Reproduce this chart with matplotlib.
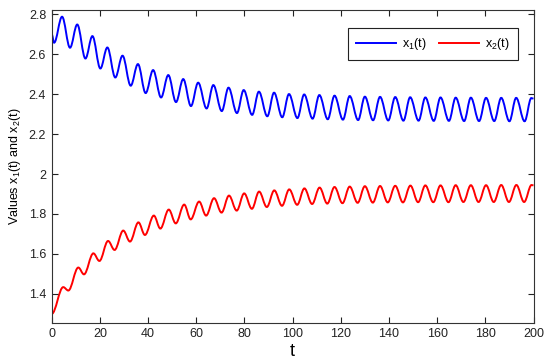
import matplotlib
matplotlib.use("Agg")
import matplotlib.pyplot as plt
from matplotlib.path import Path
from matplotlib.patches import PathPatch
from matplotlib.lines import Line2D

plt.rcParams['font.family'] = ['Liberation Sans', 'DejaVu Sans']
plt.rcParams['mathtext.fontset'] = 'custom'
plt.rcParams['mathtext.rm'] = 'Liberation Sans'
plt.rcParams['mathtext.default'] = 'regular'

# extrema of x1(t): (t, value), in order
x1_t = [0.0, 1.0, 4.3, 7.6, 10.6, 14.0, 16.9, 20.2, 23.1, 26.4, 29.4, 32.8, 35.8,
        39.0, 42.1, 45.4, 48.4, 51.6, 54.6, 57.8, 60.8, 64.3, 67.1, 70.6, 73.4,
        76.9, 79.7, 83.2, 86.0, 89.5, 92.3, 95.7, 98.5, 102.0, 104.8, 108.3, 111.1,
        114.6, 117.4, 120.9, 123.7, 127.2, 130.0, 133.4, 136.3, 139.7, 142.6, 146.0,
        148.8, 152.3, 155.1, 158.6, 161.4, 164.9, 167.7, 171.2, 174.0, 177.4, 180.3,
        183.7, 186.6, 190.0, 192.8, 196.3, 199.1, 200.0]
x1_v = [2.700, 2.657, 2.787, 2.632, 2.748, 2.578, 2.690, 2.528, 2.633, 2.483, 2.592,
        2.442, 2.550, 2.405, 2.520, 2.383, 2.495, 2.360, 2.475, 2.340, 2.457, 2.328,
        2.445, 2.315, 2.432, 2.305, 2.420, 2.296, 2.412, 2.289, 2.407, 2.284, 2.400,
        2.280, 2.398, 2.277, 2.395, 2.274, 2.392, 2.272, 2.390, 2.270, 2.387, 2.269,
        2.386, 2.268, 2.385, 2.267, 2.384, 2.267, 2.383, 2.266, 2.383, 2.266, 2.382,
        2.265, 2.382, 2.265, 2.381, 2.265, 2.381, 2.264, 2.381, 2.264, 2.380, 2.377]

# extrema of x2(t)
x2_t = [0.0, 4.8, 6.9, 11.05, 13.4, 17.3, 19.8, 23.4, 26.1, 29.7, 32.5, 36.0, 38.7,
        42.4, 45.1, 48.6, 51.5, 55.0, 57.7, 61.2, 64.1, 67.4, 70.5, 73.6, 76.8,
        79.9, 83.1, 86.1, 89.3, 92.4, 95.6, 98.6, 101.9, 104.9, 108.1, 111.2, 114.4,
        117.4, 120.7, 123.7, 127.0, 130.0, 133.3, 136.3, 139.5, 142.6, 145.8, 148.9,
        152.1, 155.1, 158.4, 161.4, 164.7, 167.7, 170.9, 174.0, 177.2, 180.3, 183.5,
        186.6, 189.8, 192.9, 196.1, 199.2, 200.0]
x2_v = [1.300, 1.434, 1.417, 1.532, 1.498, 1.603, 1.565, 1.665, 1.620, 1.717, 1.662,
        1.758, 1.695, 1.792, 1.727, 1.822, 1.753, 1.847, 1.773, 1.862, 1.792, 1.879,
        1.807, 1.892, 1.817, 1.903, 1.826, 1.912, 1.835, 1.918, 1.841, 1.923, 1.846,
        1.928, 1.850, 1.932, 1.852, 1.935, 1.854, 1.937, 1.856, 1.939, 1.857, 1.940,
        1.858, 1.941, 1.858, 1.942, 1.859, 1.943, 1.859, 1.943, 1.859, 1.944, 1.860,
        1.944, 1.860, 1.944, 1.860, 1.945, 1.860, 1.945, 1.860, 1.945, 1.943]

xticks = [0, 20, 40, 60, 80, 100, 120, 140, 160, 180, 200]
yticks = [1.4, 1.6, 1.8, 2.0, 2.2, 2.4, 2.6, 2.8]
ytick_labels = ['1.4', '1.6', '1.8', '2', '2.2', '2.4', '2.6', '2.8']


def smooth_path(ts, vs):
    # cubic Bezier between neighbouring extrema, flat tangents at each extremum
    k = 0.3634
    verts = [(ts[0], vs[0])]
    codes = [Path.MOVETO]
    for i in range(1, len(ts)):
        dt = ts[i] - ts[i - 1]
        verts += [(ts[i - 1] + k * dt, vs[i - 1]), (ts[i] - k * dt, vs[i]), (ts[i], vs[i])]
        codes += [Path.CURVE4] * 3
    return Path(verts, codes)


fig = plt.figure(figsize=(5.5, 3.62), dpi=100)
ax = fig.add_axes([0.094, 0.108, 0.876, 0.864])

for ts, vs, col in [(x1_t, x1_v, 'blue'), (x2_t, x2_v, 'red')]:
    ax.add_patch(PathPatch(smooth_path(ts, vs), facecolor='none', edgecolor=col,
                           lw=1.4, transform=ax.transData))

ax.set_xlim(0, 200)
ax.set_ylim(1.255, 2.82)
ax.set_xticks(xticks)
ax.set_yticks(yticks)
ax.set_yticklabels(ytick_labels)
ax.tick_params(direction='in', top=True, right=True, length=4, width=0.8,
               labelsize=9, pad=4, colors='#222222')
for s in ax.spines.values():
    s.set_linewidth(0.8)
    s.set_color('#333333')

ax.set_xlabel('t', fontsize=13, labelpad=2)
ax.set_ylabel('Values x$_1$(t) and x$_2$(t)', fontsize=9, labelpad=4)

handles = [Line2D([], [], color='blue', lw=1.4), Line2D([], [], color='red', lw=1.4)]
leg = ax.legend(handles, ['x$_1$(t)', 'x$_2$(t)'], ncol=2, loc='upper right',
                bbox_to_anchor=(0.968, 0.9425), borderaxespad=0, fontsize=9,
                handlelength=3.2, handletextpad=0.5, columnspacing=1.0,
                fancybox=False, framealpha=1, borderpad=0.65)
leg.get_frame().set_edgecolor('#222222')
leg.get_frame().set_linewidth(0.8)

fig.savefig('out.png', dpi=100)
